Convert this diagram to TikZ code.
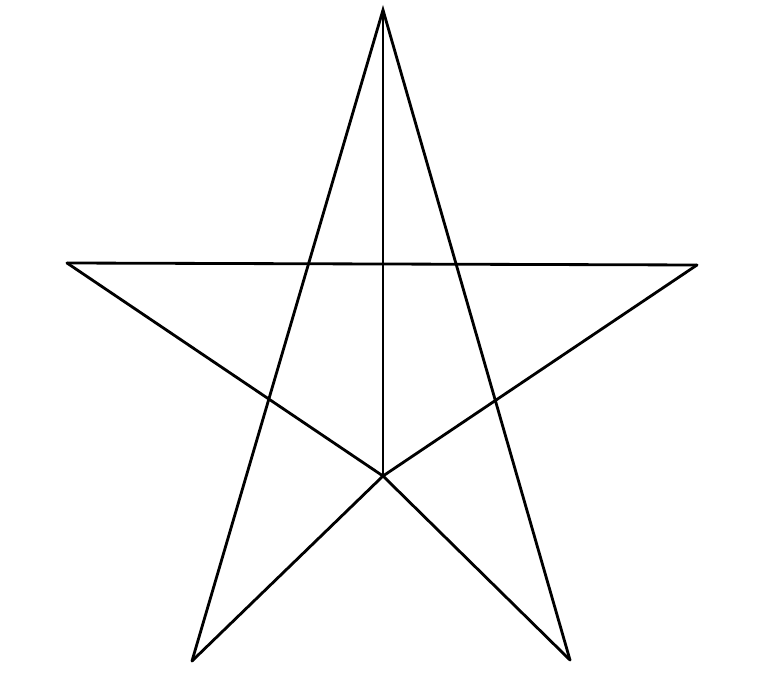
\documentclass[tikz,border=0pt]{standalone}
\begin{document}
\begin{tikzpicture}[x=0.02cm,y=-0.02cm,starline/.style={line width=1.6pt,line cap=round,line join=miter}]
\useasboundingbox (0,0) rectangle (768,679);
\coordinate (top) at (383,10);
\coordinate (left) at (67,263);
\coordinate (right) at (697,265);
\coordinate (mid) at (383,476);
\coordinate (botleft) at (192,661);
\coordinate (botright) at (570,660);
\draw[starline] (botleft) -- (top) -- (botright);
\draw[starline] (left) -- (right);
\draw[starline] (top) -- (mid);
\draw[starline] (left) -- (mid) -- (botright);
\draw[starline] (right) -- (mid) -- (botleft);
\end{tikzpicture}
\end{document}
